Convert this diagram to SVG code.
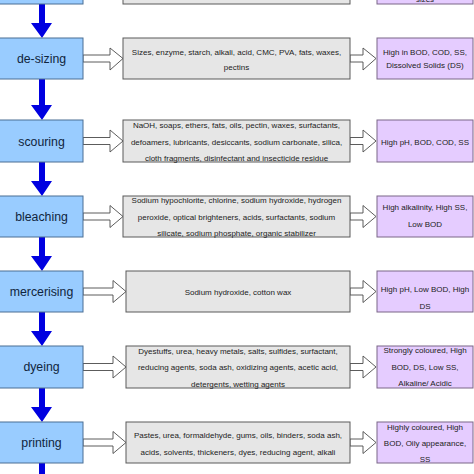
<svg xmlns="http://www.w3.org/2000/svg" width="474" height="474" viewBox="0 0 474 474">
<style>
.step{fill:#99ccff;stroke:#4b6f94;stroke-width:1}
.chem{fill:#e6e6e6;stroke:#5a5a5a;stroke-width:1}
.out{fill:#e5ccff;stroke:#7a6687;stroke-width:1}
.lbl{font-family:"Liberation Sans",Arial,sans-serif;font-size:12.3px;fill:#10253d;text-anchor:middle}
.t{font-family:"Liberation Sans",Arial,sans-serif;font-size:8px;fill:#222;text-anchor:middle}
.hollow{fill:#ffffff;stroke:#4a4a4a;stroke-width:0.9}
.flow{fill:#0000e0;stroke:none}
</style>
<rect width="474" height="474" fill="#ffffff"/>
<g id="connectors">
<!-- blue downward arrows -->
<polygon class="flow" points="39,4 45,4 45,23 52,23 42,38 31,23 39,23"/>
<polygon class="flow" points="39,79 45,79 45,105 52,105 42,120 31,105 39,105"/>
<polygon class="flow" points="39,162 45,162 45,181 52,181 42,196 31,181 39,181"/>
<polygon class="flow" points="39,237 45,237 45,256 52,256 42,271 31,256 39,256"/>
<polygon class="flow" points="39,312 45,312 45,331 52,331 42,346 31,331 39,331"/>
<polygon class="flow" points="39,388 45,388 45,407 52,407 42,422 31,407 39,407"/>
<polygon class="flow" points="39,463 45,463 45,475 39,475"/>
<!-- hollow arrows step->chem -->
<polygon class="hollow" points="83,55 110,55 110,48 123,58.5 110,70 110,62 83,62"/>
<polygon class="hollow" points="83,137.5 110,137.5 110,130 123,141 110,152 110,144.5 83,144.5"/>
<polygon class="hollow" points="83,213 110,213 110,205.5 123,216.5 110,227.5 110,220 83,220"/>
<polygon class="hollow" points="83,288 113,288 113,280.5 126,291.5 113,302.5 113,295 83,295"/>
<polygon class="hollow" points="83,363.5 113,363.5 113,356 126,367 113,378 113,370.5 83,370.5"/>
<polygon class="hollow" points="83,439 113,439 113,431.5 126,442.5 113,453.5 113,446 83,446"/>
<!-- hollow arrows chem->out -->
<polygon class="hollow" points="350,55 363,55 363,48 376,58.5 363,70 363,62 350,62"/>
<polygon class="hollow" points="350,137.5 363,137.5 363,130 376,141 363,152 363,144.5 350,144.5"/>
<polygon class="hollow" points="350,213 363,213 363,205.5 376,216.5 363,227.5 363,220 350,220"/>
<polygon class="hollow" points="350,288 363,288 363,280.5 376,291.5 363,302.5 363,295 350,295"/>
<polygon class="hollow" points="350,363.5 363,363.5 363,356 376,367 363,378 363,370.5 350,370.5"/>
<polygon class="hollow" points="350,439 363,439 363,431.5 376,442.5 363,453.5 363,446 350,446"/>
</g>
<g id="row0">
<rect class="step" x="-1" y="-40" width="84" height="44"/>
<rect class="chem" x="123" y="-40" width="227" height="44"/>
<rect class="out" x="377" y="-40" width="96" height="44"/>
<text class="t" x="425" y="2">sizes</text>
</g>
<g id="desizing">
<rect class="step" x="-1" y="38" width="84" height="41"/>
<text class="lbl" x="41.5" y="63.3">de-sizing</text>
</g>
<g id="desizing-chem">
<rect class="chem" x="123" y="38" width="227" height="41"/>
<text class="t" x="236.5" y="54.5">Sizes, enzyme, starch, alkali, acid, CMC, PVA, fats, waxes,</text>
<text class="t" x="236.5" y="70">pectins</text>
</g>
<g id="desizing-out">
<rect class="out" x="377" y="38" width="96" height="41"/>
<text class="t" x="425" y="55">High in BOD, COD, SS,</text>
<text class="t" x="425" y="68">Dissolved Solids (DS)</text>
</g>
<g id="scouring">
<rect class="step" x="-1" y="120" width="84" height="42"/>
<text class="lbl" x="41.5" y="146">scouring</text>
</g>
<g id="scouring-chem">
<rect class="chem" x="123" y="120" width="227" height="42"/>
<text class="t" x="236.5" y="128">NaOH, soaps, ethers, fats, oils, pectin, waxes, surfactants,</text>
<text class="t" x="236.5" y="144.5">defoamers, lubricants, desiccants, sodium carbonate, silica,</text>
<text class="t" x="236.5" y="161">cloth fragments, disinfectant and insecticide residue</text>
</g>
<g id="scouring-out">
<rect class="out" x="377" y="120" width="96" height="42"/>
<text class="t" x="425" y="144.5">High pH, BOD, COD, SS</text>
</g>
<g id="bleaching">
<rect class="step" x="-1" y="196" width="84" height="41"/>
<text class="lbl" x="41.5" y="221">bleaching</text>
</g>
<g id="bleaching-chem">
<rect class="chem" x="123" y="196" width="227" height="41"/>
<text class="t" x="236.5" y="203">Sodium hypochlorite, chlorine, sodium hydroxide, hydrogen</text>
<text class="t" x="236.5" y="219.5">peroxide, optical brighteners, acids, surfactants, sodium</text>
<text class="t" x="236.5" y="236">silicate, sodium phosphate, organic stabilizer</text>
</g>
<g id="bleaching-out">
<rect class="out" x="377" y="196" width="96" height="41"/>
<text class="t" x="425" y="210">High alkalinity, High SS,</text>
<text class="t" x="425" y="227">Low BOD</text>
</g>
<g id="mercerising">
<rect class="step" x="-1" y="271" width="84" height="41"/>
<text class="lbl" x="41.5" y="296.3">mercerising</text>
</g>
<g id="mercerising-chem">
<rect class="chem" x="126" y="271" width="224" height="41"/>
<text class="t" x="238" y="294.8">Sodium hydroxide, cotton wax</text>
</g>
<g id="mercerising-out">
<rect class="out" x="377" y="271" width="96" height="41"/>
<text class="t" x="425" y="291.8">High pH, Low BOD, High</text>
<text class="t" x="425" y="308.5">DS</text>
</g>
<g id="dyeing">
<rect class="step" x="-1" y="346" width="84" height="42"/>
<text class="lbl" x="41.5" y="371.3">dyeing</text>
</g>
<g id="dyeing-chem">
<rect class="chem" x="126" y="346" width="224" height="42"/>
<text class="t" x="238" y="353.5">Dyestuffs, urea, heavy metals, salts, sulfides, surfactant,</text>
<text class="t" x="238" y="370">reducing agents, soda ash, oxidizing agents, acetic acid,</text>
<text class="t" x="238" y="386.8">detergents, wetting agents</text>
</g>
<g id="dyeing-out">
<rect class="out" x="377" y="346" width="96" height="42"/>
<text class="t" x="425" y="352.8">Strongly coloured, High</text>
<text class="t" x="425" y="369.8">BOD, DS, Low SS,</text>
<text class="t" x="425" y="386">Alkaline/ Acidic</text>
</g>
<g id="printing">
<rect class="step" x="-1" y="422" width="84" height="41"/>
<text class="lbl" x="41.5" y="446.5">printing</text>
</g>
<g id="printing-chem">
<rect class="chem" x="126" y="422" width="224" height="41"/>
<text class="t" x="238" y="437.8">Pastes, urea, formaldehyde, gums, oils, binders, soda ash,</text>
<text class="t" x="238" y="454.5">acids, solvents, thickeners, dyes, reducing agent, alkali</text>
</g>
<g id="printing-out">
<rect class="out" x="377" y="422" width="96" height="41"/>
<text class="t" x="425" y="429.8">Highly coloured, High</text>
<text class="t" x="425" y="446">BOD, Oily appearance,</text>
<text class="t" x="425" y="462">SS</text>
</g>
</svg>
